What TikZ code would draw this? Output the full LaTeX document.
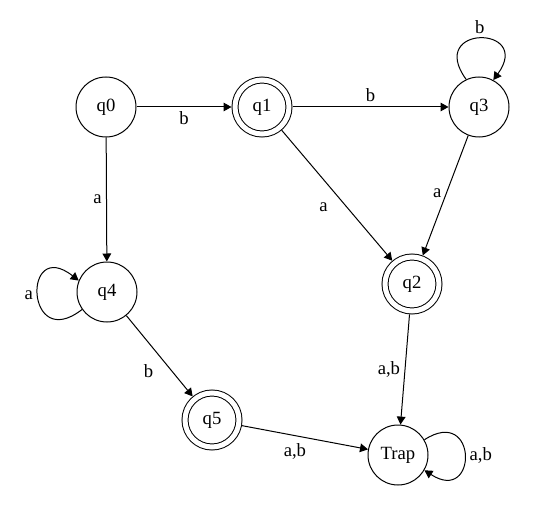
\documentclass[tikz,border=0pt]{standalone}
\usepackage{fontspec}
\setmainfont{Liberation Serif}
\usetikzlibrary{arrows.meta}

\begin{document}
\begin{tikzpicture}[x=0.75pt,y=0.75pt,line width=0.75pt,
    every node/.style={font=\rmfamily\fontsize{14}{16}\selectfont},
    state/.style={draw, circle, minimum size=45pt, inner sep=0pt},
    accept/.style={draw, circle, double, double distance=3.75pt, minimum size=40.5pt, inner sep=0pt, outer sep=2.625pt},
    trans/.style={-{Triangle[length=6pt,width=6.5pt]}}]
    \useasboundingbox (0,0) rectangle (535,-506);

    \node[state]  (q0)   at (106,-107) {q0};
    \node[accept] (q1)   at (262,-107) {q1};
    \node[state]  (q3)   at (479,-107) {q3};
    \node[accept] (q2)   at (412,-284) {q2};
    \node[state]  (q4)   at (107,-292) {q4};
    \node[accept] (q5)   at (212,-420) {q5};
    \node[state]  (trap) at (398,-455) {Trap};

    \foreach \s/\t/\l/\p in {q0/q1/b/below, q1/q3/b/above, q0/q4/a/left,
        q1/q2/a/{below left,pos=0.52,xshift=-5pt}, q3/q2/a/{left,pos=0.48}, q4/q5/b/{below left,pos=0.54,xshift=-3pt},
        q2/trap/{a,b}/left, q5/trap/{a,b}/{below,pos=0.42,yshift=-2pt}}
    {
        \tikzset{lbl/.style/.expand once=\p}
        \draw[trans] (\s) -- node[lbl] {\l} (\t);
    }

    % self loops
    \draw[trans] (q3.115) .. controls +(126:51pt) and +(54:51pt) .. node[above] {b} (q3.62);
    \draw[trans] (q4.215) .. controls +(218:54pt) and +(142:54pt) .. node[left] {a} (q4.158);
    \draw[trans] (trap.30) .. controls +(33:48pt) and +(-33:48pt) .. node[right] {a,b} (trap.-30);
\end{tikzpicture}
\end{document}
